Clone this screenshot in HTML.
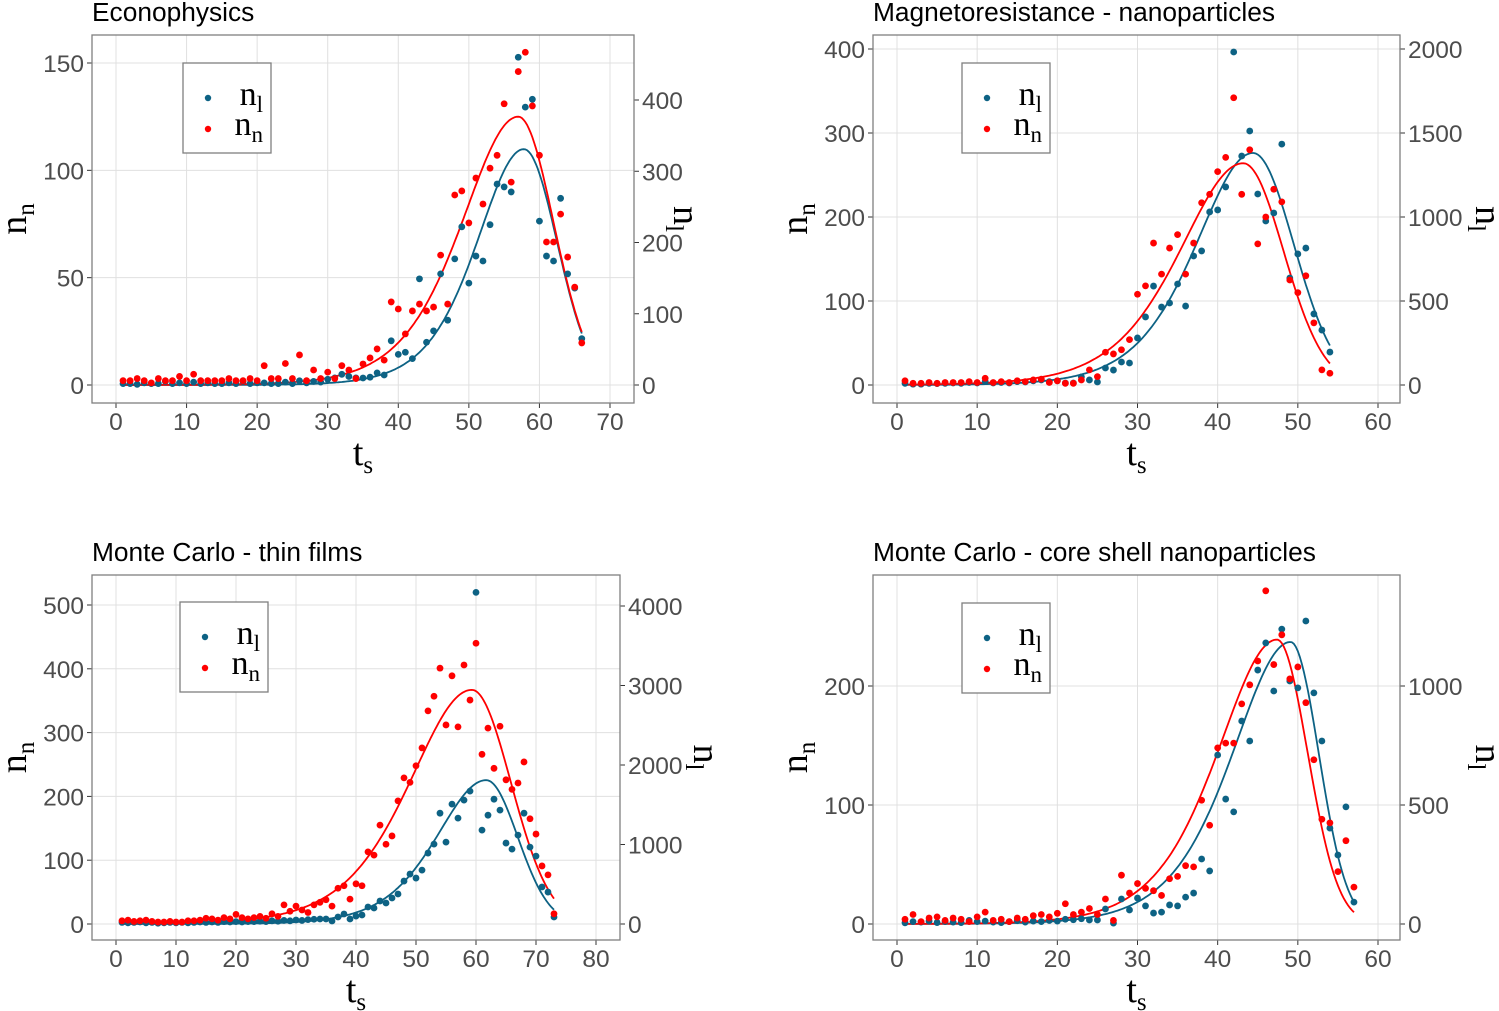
<!DOCTYPE html>
<html><head><meta charset="utf-8"><style>
html,body{margin:0;padding:0;background:#fff;}
svg{display:block;font-family:"Liberation Sans",sans-serif;}
.tick{font-size:24.5px;fill:#4d4d4d;}
.ttl{font-size:26.3px;fill:#000;}
.ser{font-family:"Liberation Serif",serif;fill:#000;}
</style></head><body>
<svg id="chart" width="1499" height="1011" viewBox="0 0 1499 1011"></svg>
<script>
// ---------- data (red = n_n on left axis, blue = n_l on right axis), t = index+1 ----------
const p1Red = [2,2,3,2,1,3,2,2,4,2,5,2,2,2,2,3,2,2,3,2,9,3,3,10,3,14,2,7,3,6,3,9,7,3,
  9.8,12.6,16.8,11.6,38.7,35.4,23.8,34.5,37.7,34.5,36.3,60.5,37.7,88.5,90.4,75.5,96.4,84.3,101,107,131,94.5,146,155,130,107,66.6,66.6,79.6,59.6,45.6,19.6];
const p1Blue = [2,2,1,3,2,2,5,2,3,2,4,2,3,2,2,3,2,5,2,3,3,2,2,4,2,6,3,5,4,8,10,15,12,10,
  9.8,11,17,14,62,43,46,37,149,60,76,156,91,177,222,143,181,174,225,282,278,271,460,390,401,230,181,174,262,156,136,65];
const p2Red = [5,2,2,3,2,3,3,3,4,3,8,3,4,3,5,4,6,7,3,5,
  2,2,6,18,10,39,37,42,54,108,118,169,132,163,179,132,169,217,227,254,271,342,227,280,168,200,233,218,125,110,130,74,18,14];
const p2Blue = [10,5,5,10,8,10,12,10,15,12,20,12,15,12,20,18,25,30,20,25,
  12,12,48,30,18,101,89,137,131,280,405,589,464,488,601,470,768,798,1030,1042,1179,1982,1363,1512,1137,976,1024,1434,637,780,815,423,327,196];
const p3Red = [5,6,4,5,6,4,3,3,4,3,3,5,5,6,9,8,6,10,8,15,10,8,10,12,9,16,12,30,20,28,22,18,30,
  34,38,28,56,60,39,63,60,113,108,155,125,138,193,229,222,248,276,334,357,401,312,389,309,406,351,440,266,307,244,310,226,211,221,254,165,141,91,77,16];
const p3Blue = [20,15,20,25,15,20,10,15,20,15,20,15,20,25,20,25,20,30,25,30,25,30,30,35,30,40,35,45,40,50,45,55,60,
  63,63,38,88,126,63,100,113,214,201,289,264,327,377,540,628,578,678,892,1005,1394,1030,1508,1332,1558,1671,4171,1181,1369,1570,1432,1018,942,1118,1394,967,854,465,402,88];
const p4Red = [4,8,2,5,6,3,5,4,2,6,10,3,4,2,5,4,7,8,6,9,17,8,10,
  13,8,21,3,41,26,34,30,28,24,38,40,49,48,104,83,148,152,152,185,201,221,280,218,243,206,216,186,138,88,85,44,70,31];
const p4Blue = [5,10,8,12,6,10,8,6,15,10,12,8,6,10,14,8,12,10,15,12,20,18,22,
  17,17,63,4,105,59,109,76,46,50,80,76,113,130,273,223,710,525,471,853,769,1067,1181,979,1239,1021,992,1273,971,769,403,290,492,92];
// fit parameters: [amplitude, peak t, left width, right sigma]
const p1RedFit = [125, 57, 10.8, 5.0];
const p1BlueFit = [331, 57.8, 9.0, 4.7];
const p2RedFit = [264, 43.2, 10.7, 5.0];
const p2BlueFit = [1381, 44.4, 9.6, 5.1];
const p3RedFit = [367, 59.3, 14, 6.5];
const p3BlueFit = [1809, 61.7, 11.2, 5.25];
const p4RedFit = [239, 47.4, 10, 3.8];
const p4BlueFit = [1185, 49.1, 9.8, 3.5];
// tick labels
const p1XTicks = [0,10,20,30,40,50,60,70], p1LTicks = [0,50,100,150], p1RTicks = [0,100,200,300,400];
const p2XTicks = [0,10,20,30,40,50,60], p2LTicks = [0,100,200,300,400], p2RTicks = [0,500,1000,1500,2000];
const p3XTicks = [0,10,20,30,40,50,60,70,80], p3LTicks = [0,100,200,300,400,500], p3RTicks = [0,1000,2000,3000,4000];
const p4XTicks = [0,10,20,30,40,50,60], p4LTicks = [0,100,200], p4RTicks = [0,500,1000];

const NS = "http://www.w3.org/2000/svg";
const svg = document.getElementById('chart');
const RED = "#ff0000", BLUE = "#0d6284";
function mk(tag, attrs, parent){const e=document.createElementNS(NS,tag);for(const k in attrs)e.setAttribute(k,attrs[k]);(parent||svg).appendChild(e);return e;}
function fit(p,t){return t<p[1]? p[0]/Math.pow(Math.cosh((p[1]-t)/p[2]),2) : p[0]*Math.exp(-(t-p[1])*(t-p[1])/(2*p[3]*p[3]));}

function panel(c){
  const g = mk('g',{});
  
  
  const X = t => c.x0 + (t - c.xt[0])*(c.x1-c.x0)/(c.xt[1]-c.xt[0]);
  const YL = v => c.y0 + v*(c.yl1-c.y0)/c.lmax;
  const YR = v => c.y0 + v*(c.yr1-c.y0)/c.rmax;
  const title = mk('text',{x:c.L,y:c.T-14,class:'ttl'},g); title.textContent=c.title;
   
  c.xticks.forEach(v=>{const l=mk('line',{x1:X(v),x2:X(v),y1:c.T,y2:c.B,stroke:'#e0e0e0','stroke-width':1},g);
     });
  c.lticks.forEach(v=>{const l=mk('line',{x1:c.L,x2:c.R,y1:YL(v),y2:YL(v),stroke:'#e0e0e0','stroke-width':1},g);
     });
  c.xticks.forEach(v=>{mk('line',{x1:X(v),x2:X(v),y1:c.B,y2:c.B+5,stroke:'#333'},g);
    const t=mk('text',{x:X(v),y:c.B+27,class:'tick','text-anchor':'middle'},g);t.textContent=v;
     });
  c.lticks.forEach(v=>{mk('line',{x1:c.L-5,x2:c.L,y1:YL(v),y2:YL(v),stroke:'#333'},g);
    const t=mk('text',{x:c.L-8,y:YL(v)+9,class:'tick','text-anchor':'end'},g);t.textContent=v;
     });
  c.rticks.forEach(v=>{mk('line',{x1:c.R,x2:c.R+5,y1:YR(v),y2:YR(v),stroke:'#333'},g);
    const t=mk('text',{x:c.R+8,y:YR(v)+9,class:'tick'},g);t.textContent=v;
     });
  [[c.blueFit,YR,BLUE,c.blue.length],[c.redFit,YL,RED,c.red.length]].forEach(([p,Y,col,n])=>{
    let d='';for(let t=1;t<=n;t+=0.25){d+=(d?'L':'M')+X(t).toFixed(1)+','+Y(fit(p,t)).toFixed(1);}
    const pth=mk('path',{d:d,fill:'none',stroke:col,'stroke-width':1.8},g);
    
    
  });
  c.blue.forEach((v,i)=>{const e=mk('circle',{cx:X(i+1),cy:YR(v),r:3.4,fill:BLUE},g);
     });
  c.red.forEach((v,i)=>{const e=mk('circle',{cx:X(i+1),cy:YL(v),r:3.4,fill:RED},g);
     });
  const fr=mk('rect',{x:c.L,y:c.T,width:c.R-c.L,height:c.B-c.T,fill:'none',stroke:'#7f7f7f','stroke-width':1.3},g);
   
  const xt=mk('text',{x:(c.L+c.R)/2,y:c.B+62,class:'ser','font-size':38,'text-anchor':'middle'},g);
  xt.innerHTML='t<tspan font-size="25" dy="8">s</tspan>';
   
  const ylt=mk('text',{x:0,y:0,class:'ser','font-size':38,'text-anchor':'middle',transform:`translate(${c.L-66},${(c.T+c.B)/2}) rotate(-90)`},g);
  ylt.innerHTML='n<tspan font-size="25" dy="8">n</tspan>';
   
  const yrt=mk('text',{x:0,y:0,class:'ser','font-size':38,'text-anchor':'middle',transform:`translate(${c.R+c.rtx},${(c.T+c.B)/2}) rotate(90)`},g);
  yrt.innerHTML='n<tspan font-size="25" dy="8">l</tspan>';
   
  const lg=mk('g',{},g);
   
  mk('rect',{x:c.lx,y:c.ly,width:88,height:90,fill:'#fff',stroke:'#7f7f7f','stroke-width':1.3},lg);
  mk('circle',{cx:c.lx+25,cy:c.ly+35,r:3.2,fill:BLUE},lg);
  mk('circle',{cx:c.lx+25,cy:c.ly+66,r:3.2,fill:RED},lg);
  const a=mk('text',{x:c.lx+80,y:c.ly+42,class:'ser','font-size':34,'text-anchor':'end'},lg);a.innerHTML='n<tspan font-size="23" dy="7">l</tspan>';
   
  const b=mk('text',{x:c.lx+80,y:c.ly+72,class:'ser','font-size':34,'text-anchor':'end'},lg);b.innerHTML='n<tspan font-size="23" dy="7">n</tspan>';
   
}

panel({name:'econophysics-panel',title:'Econophysics',L:92,R:634,T:35,B:403,x0:116,x1:610,xt:[0,70],y0:385,yl1:63,lmax:150,yr1:100,rmax:400,rtx:40,
  xticks:p1XTicks,lticks:p1LTicks,rticks:p1RTicks,red:p1Red,blue:p1Blue,redFit:p1RedFit,blueFit:p1BlueFit,lx:183,ly:63});
panel({name:'magnetoresistance-panel',title:'Magnetoresistance - nanoparticles',L:873,R:1400,T:35,B:403,x0:897,x1:1378,xt:[0,60],y0:385,yl1:49,lmax:400,yr1:49,rmax:2000,rtx:76,
  xticks:p2XTicks,lticks:p2LTicks,rticks:p2RTicks,red:p2Red,blue:p2Blue,redFit:p2RedFit,blueFit:p2BlueFit,lx:962,ly:63});
panel({name:'thin-films-panel',title:'Monte Carlo - thin films',L:92,R:620,T:575,B:940,x0:116,x1:596,xt:[0,80],y0:924,yl1:605,lmax:500,yr1:606,rmax:4000,rtx:74,
  xticks:p3XTicks,lticks:p3LTicks,rticks:p3RTicks,red:p3Red,blue:p3Blue,redFit:p3RedFit,blueFit:p3BlueFit,lx:180,ly:602});
panel({name:'core-shell-panel',title:'Monte Carlo - core shell nanoparticles',L:873,R:1400,T:575,B:940,x0:897,x1:1378,xt:[0,60],y0:924,yl1:686,lmax:200,yr1:686,rmax:1000,rtx:76,
  xticks:p4XTicks,lticks:p4LTicks,rticks:p4RTicks,red:p4Red,blue:p4Blue,redFit:p4RedFit,blueFit:p4BlueFit,lx:962,ly:603});
</script>
</body></html>
